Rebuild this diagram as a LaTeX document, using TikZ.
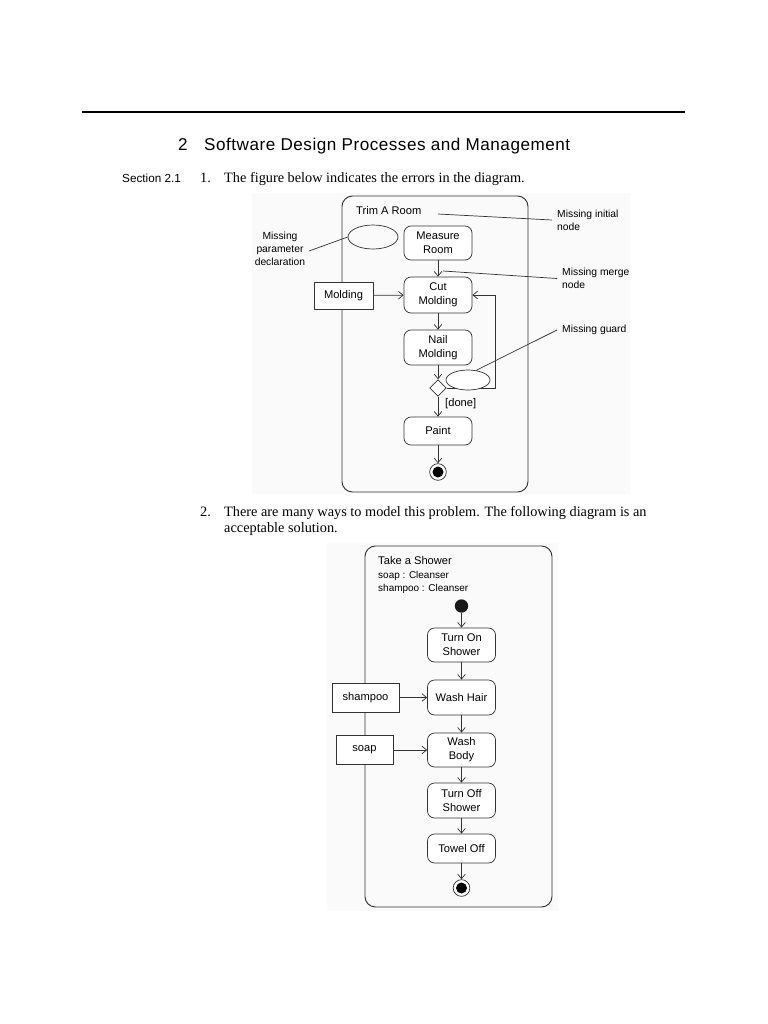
\documentclass[tikz,border=0pt]{standalone}
\usepackage{fontspec}
\setmainfont{Liberation Serif}
\newfontfamily\arialf{Liberation Sans}
\newfontfamily\titlef[LetterSpace=3]{Liberation Sans}
\usetikzlibrary{shapes.geometric,arrows.meta}
\begin{document}
\begin{tikzpicture}[x=0.03cm,y=-0.03cm,
 ln/.style={line width=0.6pt,draw=black!80},
 arr/.style={ln,-{Straight Barb[length=4pt,width=6.5pt]}},
 act/.style={ln,rounded corners=6pt,minimum width=2.04cm,inner sep=0pt,align=center,font=\arialf\fontsize{9.5}{11.8}\selectfont,fill=white},
 obj/.style={ln,rectangle,inner sep=0pt,font=\arialf\fontsize{9.5}{11.5}\selectfont,fill=white},
 note/.style={font=\arialf\fontsize{8.8}{11.3}\selectfont,inner sep=0pt},
 dlabel/.style={font=\arialf\fontsize{9.5}{11.5}\selectfont,inner sep=0pt,anchor=west},
 plabel/.style={font=\arialf\fontsize{8.5}{10}\selectfont,inner sep=0pt,anchor=west},
 frm/.style={line width=0.8pt,draw=black!80,rounded corners=9pt},
 body/.style={font=\fontsize{12.2}{14}\selectfont,inner sep=0pt,anchor=base west},
 finalnode/.style={ln,circle,minimum size=0.5cm,inner sep=0pt,fill=white},
]
\useasboundingbox[fill=white] (0,0) rectangle (768,1024);

% header
\draw[line width=1.6pt] (82,112) -- (685,112);
\node[anchor=base west,inner sep=0pt,font=\titlef\fontsize{14.6}{16}\selectfont] (tnum) at (178,150) {2};
\node[anchor=base west,inner sep=0pt,font=\titlef\fontsize{14.6}{16}\selectfont] (title) at (204,150) {Software Design Processes and Management};
\node[anchor=base west,inner sep=0pt,font=\arialf\fontsize{10}{12}\selectfont] (sec) at (122,182) {Section 2.1};
\node[body] (n1) at (200,182) {1.};
\node[body] (t1) at (224,182) {The figure below indicates the errors in the diagram.};
\node[body] (n2) at (200,516) {2.};
\node[body] (t2a) at (224,516) {There are many ways to model this problem. The following diagram is an};
\node[body] (t2b) at (224,532) {acceptable solution.};

% ---------------- diagram 1 ----------------
\fill[black!2] (252,193) rectangle (630,494);
\draw[frm] (342,196) rectangle (528,492);
\node[dlabel] (trim) at (356,211) {Trim A Room};
\node[ln,ellipse,minimum width=1.5cm,minimum height=0.72cm,inner sep=0pt] (pe) at (373,237) {};
\node[act,minimum height=1.02cm] (mr) at (438,243) {Measure\\Room};
\node[act,minimum height=1.08cm] (cm) at (438,295) {Cut\\Molding};
\node[obj,minimum width=1.77cm,minimum height=0.81cm] (mo) at (343.5,295.5) {Molding};
\node[act,minimum height=1.05cm] (nm) at (438,347.5) {Nail\\Molding};
\node[ln,diamond,minimum size=0.5cm,inner sep=0pt,fill=white] (dec) at (438,388) {};
\node[act,minimum height=0.84cm] (pt) at (438,431) {Paint};
\node[finalnode] (fin1) at (438,472) {};
\fill[black] (fin1.center) circle (0.165cm);

\draw[arr] (mr) -- (cm);
\draw[arr] (mo) -- (cm);
\draw[arr] (cm) -- (nm);
\draw[arr] (nm) -- (dec);
\draw[arr] (dec) -- (pt);
\draw[arr] (pt) -- (fin1);
\coordinate (lp) at (495,388);
\draw[arr] (dec.east) -- (lp) |- (cm.east);
\node[ln,ellipse,fill=white,minimum width=1.32cm,minimum height=0.6cm,inner sep=0pt] (ge) at (468,380) {};
\node[dlabel] (done) at (445,404) {[done]};

% annotations
\node[note,anchor=west,align=left] (an1) at (557,220) {Missing initial\\node};
\coordinate (an1s) at (438,214);
\draw[ln] (an1s) -- ([xshift=-0.15cm]an1.west);
\node[note,align=center] (an2) at (280,249) {Missing\\parameter\\declaration};
\coordinate (an2s) at (309,251);
\draw[ln] (an2s) -- (pe.west);
\node[note,anchor=west,align=left] (an3) at (562,278.5) {Missing merge\\node};
\coordinate (an3s) at (443,271);
\draw[ln] (an3s) -- ([xshift=-0.15cm]an3.west);
\node[note,anchor=west] (an4) at (562,330) {Missing guard};
\draw[ln] ([xshift=-0.15cm]an4.west) -- (ge.50);

% ---------------- diagram 2 ----------------
\fill[black!2] (327,543) rectangle (558,911);
\draw[frm] (365,546) rectangle (552,907);
\node[dlabel] (ts) at (378,561) {Take a Shower};
\node[plabel] (p1) at (378,576) {soap : Cleanser};
\node[plabel] (p2) at (378,589) {shampoo : Cleanser};
\node[circle,fill=black!90,minimum size=0.4cm,inner sep=0pt] (ini) at (461.5,606) {};
\node[act,minimum height=1.02cm] (ton) at (461.5,645) {Turn On\\Shower};
\node[act,minimum height=1.05cm] (wh) at (461.5,697.5) {Wash Hair};
\node[obj,minimum width=2.01cm,minimum height=0.87cm] (sh) at (365.5,697.5) {shampoo};
\node[act,minimum height=1.02cm] (wb) at (461.5,750) {Wash\\Body};
\node[obj,minimum width=1.71cm,minimum height=0.87cm] (so) at (364.5,750) {soap};
\node[act,minimum height=1.05cm] (toff) at (461.5,800.5) {Turn Off\\Shower};
\node[act,minimum height=0.87cm] (tw) at (461.5,848.5) {Towel Off};
\node[finalnode] (fin2) at (461.5,888) {};
\fill[black] (fin2.center) circle (0.165cm);

\draw[arr] (ini) -- (ton);
\draw[arr] (ton) -- (wh);
\draw[arr] (wh) -- (wb);
\draw[arr] (wb) -- (toff);
\draw[arr] (toff) -- (tw);
\draw[arr] (tw) -- (fin2);
\draw[arr] (sh) -- (wh);
\draw[arr] (so) -- (wb);
\end{tikzpicture}
\end{document}
